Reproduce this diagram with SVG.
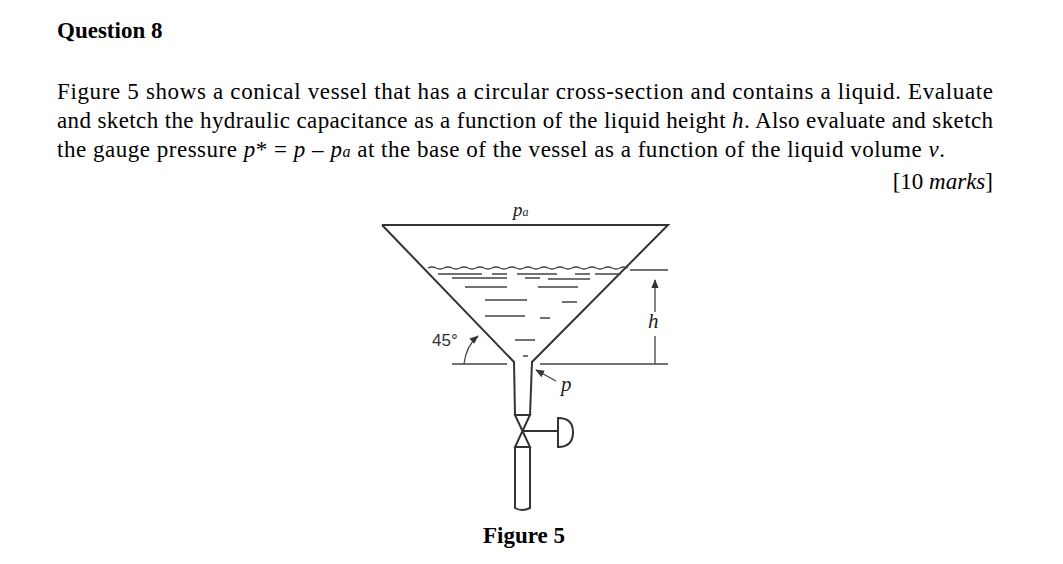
<svg xmlns="http://www.w3.org/2000/svg" width="1063" height="564" viewBox="0 0 1063 564">
<style>
.t{font-family:"Liberation Serif",serif;font-size:23px;fill:#000}
.b{font-weight:bold}
.l{fill:none;stroke:#333;stroke-width:2}
.th{fill:none;stroke:#444;stroke-width:1.3}
.i{font-family:"Liberation Serif",serif;font-style:italic;fill:#222}
</style>
<defs><marker id="a" viewBox="0 0 10 10" refX="9" refY="5" markerWidth="7" markerHeight="7" orient="auto"><path d="M0,1 L10,5 L0,9z" fill="#333"/></marker></defs>
<rect width="1063" height="564" fill="#fff"/>
<text class="t b" x="57" y="38" font-size="21">Question 8</text>
<text class="t" x="57" y="99" textLength="936" lengthAdjust="spacing">Figure 5 shows a conical vessel that has a circular cross-section and contains a liquid. Evaluate</text>
<text class="t" x="57" y="128" textLength="936" lengthAdjust="spacing">and sketch the hydraulic capacitance as a function of the liquid height <tspan font-style="italic">h</tspan>. Also evaluate and sketch</text>
<text class="t" x="57" y="157" textLength="888" lengthAdjust="spacing">the gauge pressure <tspan font-style="italic">p</tspan>* = <tspan font-style="italic">p</tspan> – <tspan font-style="italic">p<tspan font-size="16">a</tspan></tspan> at the base of the vessel as a function of the liquid volume <tspan font-style="italic">v</tspan>.</text>
<text class="t" x="993" y="189" text-anchor="end">[10 <tspan font-style="italic">marks</tspan>]</text>
<g id="vessel">
<path class="l" d="M382,225 L668,225 L532,362 L530,415 M382,225 L514,362 L515,415"/>
<path class="l" d="M515,415 L530,415 L515,447 L530,447 Z"/>
<path class="l" d="M515,447 L515,508 Q522,512 530,508 L530,447"/>
<path class="l" d="M523,431 L558,431 M558,418 Q573,418 573,432 Q573,447 558,447 Z"/>
</g>
<g id="liquid">
<path class="th" d="M428,268 q4,-2 8,0 t8,0 t8,0 t8,0 t8,0 t8,0 t8,0 t8,0 t8,0 t8,0 t8,0 t8,0 t8,0 t8,0 t8,0 t8,0 t8,0 t8,0 t8,0 t8,0 t8,0 t8,0 t8,0 t8,0 t8,0"/>
<path class="th" d="M438,274h44 M492,274h15 M517,274h40 M575,274h15 M595,274h26 M452,278h55 M525,278h15 M548,279h42 M465,287h42 M538,287h40 M485,300h42 M562,302h15 M485,316h40 M540,318h10 M515,340h20 M523,356h5"/>
</g>
<g id="labels">
<text class="i" x="513" y="216" font-size="19">p<tspan font-size="12">a</tspan></text>
<text class="i" x="648" y="328" font-size="21">h</text>
<text class="i" x="561" y="391" font-size="21">p</text>
<text x="432" y="346" font-family="Liberation Sans,sans-serif" font-size="17" fill="#333">45°</text>
<text class="t b" x="483" y="543" font-size="21">Figure 5</text>
</g>
<g id="connectors">
<path class="th" d="M630,270H668 M452,364H507 M540,364H668 M655,364V336"/>
<path class="th" d="M655,312V280" marker-end="url(#a)"/>
<path class="th" d="M464,364 Q466,346 478,336" marker-end="url(#a)"/>
<path class="th" d="M556,381 L536,370" marker-end="url(#a)"/>
</g>
</svg>
